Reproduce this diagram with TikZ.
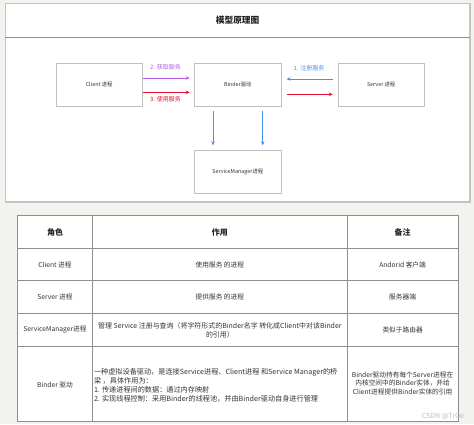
\documentclass[tikz,border=0pt]{standalone}
\usepackage{fontspec}
\setmainfont{Noto Sans CJK SC}
\usetikzlibrary{calc,arrows.meta}
\definecolor{bgc}{HTML}{F2F2EF}
\definecolor{framec}{HTML}{C4C4C4}
\definecolor{boxc}{HTML}{C0C0C0}
\definecolor{gridc}{HTML}{8E8E8E}
\definecolor{txtc}{HTML}{333333}
\definecolor{purp}{HTML}{B65CEB}
\definecolor{redc}{HTML}{E3132F}
\definecolor{bluec}{HTML}{4A92E6}
\definecolor{wmc}{HTML}{BDBDBD}
\tikzset{
  procbox/.style={draw=boxc, line width=0.9pt, fill=white, minimum width=86.5pt, minimum height=43pt, inner sep=0pt, text=txtc, font=\fontsize{5.4}{6.5}\selectfont},
  arr/.style={line width=0.9pt, -{Stealth[length=4pt,width=3.6pt]}},
  albl/.style={font=\fontsize{6}{7}\selectfont, inner sep=0pt},
  cell/.style={text=txtc, align=center, inner sep=0pt, font=\fontsize{6.7}{9}\selectfont},
  headc/.style={text=black!85, inner sep=0pt, font=\fontsize{8}{9}\selectfont\bfseries},
}
\begin{document}
\begin{tikzpicture}[x=1pt,y=-1pt]
\useasboundingbox (0,0) rectangle (474,424);
\fill[bgc] (0,0) rectangle (474,424);
% diagram frame
\draw[framec, line width=1.1pt, fill=white] (5.3,3.3) rectangle (470,202);
\draw[gridc, line width=0.7pt] (5.3,37) -- (470,37);
\node[inner sep=0pt, text=black!85, font=\fontsize{8.7}{10}\selectfont\bfseries] (title) at (237.6,20) {模型原理图};
% boxes
\node[procbox] (client) at (99.2,84.5) {Client 进程};
\node[procbox] (binder) at (237.85,84.5) {Binder驱动};
\node[procbox] (server) at (381.2,84.5) {Server 进程};
\node[procbox] (sm) at (237.85,172) {ServiceManager进程};
% arrows
\draw[arr, purp] ($(client.east)+(0,-6.5)$) -- ($(binder.west)+(-4.5,-6.5)$);
\node[albl, text=purp] (l2) at (165.5,67.3) {2. 获取服务};
\draw[arr, redc] ($(client.east)+(0,7.8)$) -- ($(binder.west)+(-4.5,7.8)$);
\node[albl, text=redc] (l3) at (165.5,99.3) {3. 使用服务};
\draw[arr, bluec] ($(server.west)+(-4.7,-5.5)$) -- ($(binder.east)+(5,-5.5)$);
\node[albl, text=bluec] (l1) at (309,68) {1. 注册服务};
\draw[arr, redc] ($(binder.east)+(5,9.8)$) -- ($(server.west)+(-4.7,9.8)$);
\draw[arr, purp] ($(binder.south)+(-24.85,4.7)$) -- ($(sm.north)+(-24.85,-4.7)$);
\draw[arr, bluec] ($(binder.south)+(24.85,4.7)$) -- ($(sm.north)+(24.85,-4.7)$);
% table
\fill[white] (17.3,215.7) rectangle (458.3,421.7);
\draw[gridc, line width=0.8pt] (17.3,215.7) rectangle (458.3,421.7);
\foreach \yy in {248,280.7,313.3,346} \draw[gridc, line width=0.8pt] (17.3,\yy) -- (458.3,\yy);
\foreach \xx in {92.7,347} \draw[gridc, line width=0.8pt] (\xx,215.7) -- (\xx,421.7);
% header
\node[headc] (h1) at (55,232.3) {角色};
\node[headc] (h2) at (219.9,232.3) {作用};
\node[headc] (h3) at (402.6,232.3) {备注};
% row 1
\node[cell] (r1a) at (55,264.8) {Client 进程};
\node[cell] (r1b) at (219.9,264.8) {使用服务 的进程};
\node[cell] (r1c) at (402.6,264.8) {Andorid 客户端};
% row 2
\node[cell] (r2a) at (55,297.3) {Server 进程};
\node[cell] (r2b) at (219.9,297.3) {提供服务 的进程};
\node[cell] (r2c) at (402.6,297.3) {服务器端};
% row 3
\node[cell] (r3a) at (55,330) {ServiceManager进程};
\node[cell, font=\fontsize{6.95}{9.3}\selectfont] (r3b) at (219.9,330.3) {管理 Service 注册与查询（将字符形式的Binder名字 转化成Client中对该Binder\\的引用）};
\node[cell] (r3c) at (402.6,330) {类似于路由器};
% row 4
\node[cell] (r4a) at (55,385) {Binder 驱动};
\node[cell, align=left, anchor=west, font=\fontsize{7.15}{9}\selectfont] (r4b) at (93.8,385.7) {一种虚拟设备驱动，是连接Service进程、Client进程 和Service Manager的桥\\梁 ，具体作用为：\\1. 传递进程间的数据：通过内存映射\\2. 实现线程控制：采用Binder的线程池，并由Binder驱动自身进行管理};
\node[cell, font=\fontsize{6.7}{8.4}\selectfont] (r4c) at (402.6,383.3) {Binder驱动持有每个Server进程在\\内核空间中的Binder实体，并给\\Client进程提供Binder实体的引用};
% watermark
\node[inner sep=0pt, text=wmc, font=\fontsize{7}{8}\selectfont] (wm) at (443,416.7) {CSDN @TrOe};
\end{tikzpicture}
\end{document}
